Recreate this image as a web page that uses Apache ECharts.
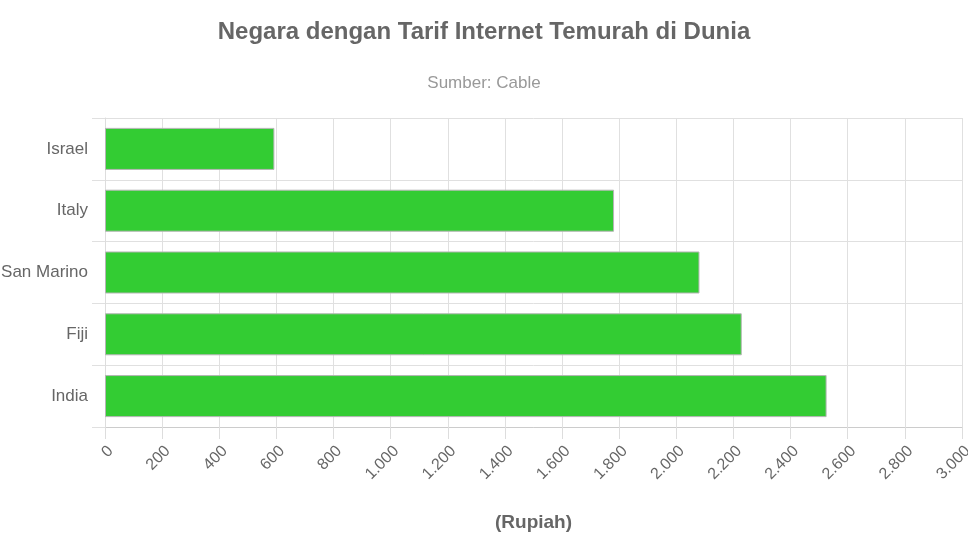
<!DOCTYPE html>
<html>
<head>
<meta charset="utf-8">
<script src="https://cdn.jsdelivr.net/npm/echarts@6/dist/echarts.min.js"></script>
<style>html,body{margin:0;padding:0;background:#fff;}#chart{width:968px;height:543px;}</style>
</head>
<body>
<div id="chart"></div>
<script>
var categories = ["Israel", "Italy", "San Marino", "Fiji", "India"];
var values = [593, 1782, 2081, 2229, 2526];
var xTicks = { min: 0, max: 3000, interval: 200 };

var chart = echarts.init(document.getElementById('chart'));
chart.setOption({
  backgroundColor: '#fff',
  animation: false,
  title: {
    text: 'Negara dengan Tarif Internet Temurah di Dunia',
    subtext: 'Sumber: Cable',
    left: 'center',
    top: 15,
    itemGap: 31,
    textStyle: { fontFamily: 'Liberation Sans', fontSize: 24, fontWeight: 'bold', color: '#666666' },
    subtextStyle: { fontFamily: 'Liberation Sans', fontSize: 17, color: '#999999' }
  },
  grid: { left: 105, right: 6, top: 118, bottom: 116, containLabel: false, outerBoundsMode: 'none' },
  xAxis: {
    type: 'value',
    min: xTicks.min, max: xTicks.max, interval: xTicks.interval,
    name: '(Rupiah)',
    nameLocation: 'middle',
    nameGap: 86,
    nameTextStyle: { fontFamily: 'Liberation Sans', fontSize: 19, fontWeight: 'bold', color: '#666666' },
    axisLine: { show: true, lineStyle: { color: '#cccccc' } },
    axisTick: { show: true, length: 12, lineStyle: { color: '#dddddd' } },
    axisLabel: {
      rotate: 45, margin: 16, verticalAlign: 'top',
      fontFamily: 'Liberation Sans', fontSize: 16, color: '#666666',
      formatter: function (v) { return String(v).replace(/\B(?=(\d{3})+(?!\d))/g, '.'); }
    },
    splitLine: { show: true, lineStyle: { color: '#e0e0e0' } }
  },
  yAxis: {
    type: 'category',
    data: categories,
    inverse: true,
    axisLine: { show: true, lineStyle: { color: '#dddddd' } },
    axisTick: { show: true, length: 13, lineStyle: { color: '#e0e0e0' } },
    axisLabel: { margin: 17, fontFamily: 'Liberation Sans', fontSize: 17, color: '#666666' },
    splitLine: { show: true, lineStyle: { color: '#e0e0e0' } }
  },
  series: [{
    type: 'bar',
    data: values,
    barWidth: '68%',
    itemStyle: { color: '#33cc33', borderColor: '#b5b5b5', borderWidth: 1 }
  }]
});
</script>
</body>
</html>
